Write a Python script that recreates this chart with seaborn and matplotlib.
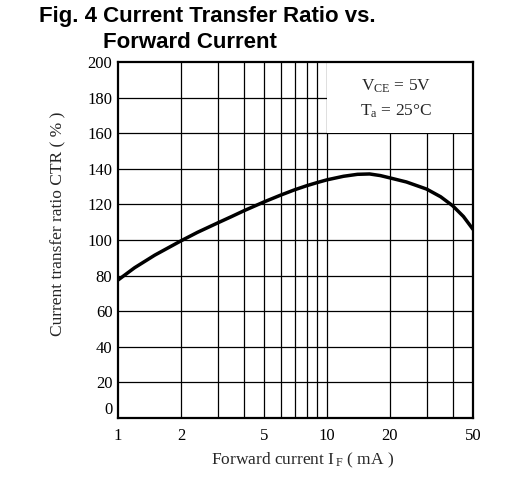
import matplotlib
matplotlib.use("Agg")
import matplotlib.pyplot as plt
from matplotlib.patches import Rectangle
from matplotlib.transforms import ScaledTranslation
import seaborn as sns
import pandas as pd

# values
forward_current = [1, 1.2, 1.5, 2, 2.4, 3, 3.5, 4, 5, 6, 7, 8, 9, 10, 12, 14, 16,
                   18, 20, 24, 30, 35, 40, 45, 50]
ctr = [77.5, 84.4, 91.5, 99.5, 104.3, 109.6, 113.2, 116.4, 121.4, 125.2, 128.2,
       130.5, 132.3, 133.8, 135.8, 136.9, 137.1, 136.2, 134.9, 132.6, 128.6,
       124.3, 119.2, 113.2, 106.0]
x_ticks = [1, 2, 5, 10, 20, 50]
x_grid = [2, 3, 4, 5, 6, 7, 8, 9, 10, 20, 30, 40]
y_ticks = [0, 20, 40, 60, 80, 100, 120, 140, 160, 180, 200]

data = pd.DataFrame({"IF": forward_current, "CTR": ctr})

sns.set_style("white")
plt.rcParams["font.family"] = ["Liberation Serif", "DejaVu Serif"]
plt.rcParams["mathtext.fontset"] = "custom"
plt.rcParams["mathtext.rm"] = "Liberation Serif"
plt.rcParams["mathtext.it"] = "Liberation Serif"

fig = plt.figure(figsize=(5.12, 4.82), dpi=100)
ax = fig.add_axes([118 / 512, 1 - 418 / 482, 355 / 512, 356 / 482])

sns.lineplot(data=data, x="IF", y="CTR", ax=ax, color="black", linewidth=2.5, zorder=3)

ax.set_xscale("log")
ax.set_xlim(1, 50)
ax.set_ylim(0, 200)

# grid lines
for gx in x_grid:
    ax.axvline(gx, color="black", linewidth=0.9, zorder=1)
for gy in y_ticks[1:-1]:
    ax.axhline(gy, color="black", linewidth=0.9, zorder=1)

# white area for the conditions note
ax.add_patch(Rectangle((10, 160), 40, 40, facecolor="white", edgecolor="none", zorder=2))
ax.text(21.4, 186.5, r"V$_{\mathrm{CE}}$ = 5V", ha="center", va="center", fontsize=12.5, zorder=4)
ax.text(21.4, 172.5, r"T$_{\mathrm{a}}$ = 25°C", ha="center", va="center", fontsize=12.5, zorder=4)

ax.set_xticks(x_ticks)
ax.set_xticklabels([str(v) for v in x_ticks])
ax.xaxis.set_minor_locator(matplotlib.ticker.NullLocator())
ax.set_yticks(y_ticks)
ax.tick_params(axis="both", length=0, labelsize=12, colors="black")
ax.tick_params(axis="x", pad=7)
ax.tick_params(axis="y", pad=4)

lab0 = ax.get_yticklabels()[0]
lab0.set_transform(lab0.get_transform() + ScaledTranslation(0, 0.1, fig.dpi_scale_trans))

for sp in ax.spines.values():
    sp.set_color("black")
    sp.set_linewidth(1.6)
    sp.set_zorder(5)

ax.set_xlabel(r"Forward current I$_{\,\mathrm{F}}$ ( mA )", fontsize=12.5)
ax.xaxis.set_label_coords(0.521, -0.093)
ax.set_ylabel("Current transfer ratio CTR ( % )", fontsize=12.5)
ax.yaxis.set_label_coords(-0.144, 0.545)

fig.text(39 / 512, 1 - 22 / 482, "Fig. 4 Current Transfer Ratio vs.", family="Liberation Sans",
         weight="bold", fontsize=16, va="baseline", color="black")
fig.text(103 / 512, 1 - 48 / 482, "Forward Current", family="Liberation Sans",
         weight="bold", fontsize=16, va="baseline", color="black")

fig.savefig("out.png", dpi=100)
